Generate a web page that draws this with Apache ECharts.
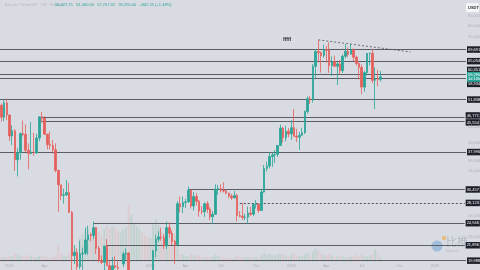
<!DOCTYPE html>
<html><head><meta charset="utf-8">
<script src="https://cdn.jsdelivr.net/npm/echarts@6/dist/echarts.min.js"></script>
<style>html,body{margin:0;padding:0;background:#d9dbe2}#c{width:480px;height:270px}</style>
</head><body><div id="c"></div><script>
// ---- data (weekly candles, BTC/USDT) ----
const firstWeek = '2021-12-13';
const weekSlots = 172;
const opens = [
50100,46700,50800,47300,41800,43100,36300,37900,42400,42200,
38400,37700,38000,37800,41300,46800,46400,42200,39700,39500,
38500,34100,31300,29400,29500,29900,26600,20600,21000,19300,
20800,20900,22600,23300,23200,24300,21500,20000,19800,21800,
19400,18800,19400,19200,19100,19600,20800,20900,16300,16300,
17100,17100,17200,16800,16700,16600,17100,21200,22700,23000,
22900,21800,24300,23500,22400,22000,28000,27500,28200,28300,
30300,27600,29200,28400,26800,26700,28000,27100,25900,26300,
30500,30600,30300,30200,29800,29300,29000,29400,26100,26000,
25800,25850,26500,26300,27900,27950,26900,30000,34500,35000,
37000,37400,37500,39500,43800,41400,43000,42300,43900,41700,
41500,42000,42600,48300,52100,51700,63100,68900,68400,67200,
69600,69400,63400,64900,63100,64000,61500,67000,69000,67800,
69600,66600,64200,62700,55800,60800,68100,68200,58100,58700,
58428];
const closes = [
46700,50800,47300,41800,43100,36300,37900,42400,42200,38400,
37700,38000,37800,41300,46800,46400,42200,39700,39500,38500,
34100,31300,29400,29500,29900,26600,20600,21000,19300,20800,
20900,22600,23300,23200,24300,21500,20000,19800,21800,19400,
18800,19400,19200,19100,19600,20800,20900,16300,16300,17100,
17100,17200,16800,16700,16600,17100,21200,22700,23000,22900,
21800,24300,23500,22400,22000,28000,27500,28200,28300,30300,
27600,29200,28400,26800,26700,28000,27100,25900,26300,30500,
30600,30300,30200,29800,29300,29000,29400,26100,26000,25800,
25850,26500,26300,27900,27950,26900,30000,34500,35000,37000,
37400,37500,39500,43800,41400,43000,42300,43900,41700,41500,
42000,42600,48300,52100,51700,63100,68900,68400,67200,69600,
69400,63400,64900,63100,64000,61500,67000,69000,67800,69600,
66600,64200,62700,55800,60800,68100,68200,58100,58700,58430,
59290];
const highs = [
50600,51900,52100,47500,44500,43500,38900,42600,45800,44700,
40000,45400,42600,42300,46900,48200,47000,42400,42900,40800,
40000,34200,31300,30600,32200,31700,26800,21900,21500,22500,
21600,24300,24600,23600,25200,24400,21800,20600,21800,22700,
19900,20400,20500,19900,19700,21100,21500,21000,17200,17300,
17400,17400,18400,17000,16900,17400,21300,23300,23800,24300,
23400,25200,25100,23900,22600,28400,29200,29200,28800,31000,
30500,30000,29800,28600,27600,28200,28400,27400,26800,31400,
31300,31400,31800,30400,29900,29700,30200,29700,26800,28100,
26400,27500,27500,28000,28600,28000,30400,35200,35900,37900,
37900,38400,39600,44700,44100,44400,43800,45900,49000,43600,
42800,43900,48600,52800,52900,64000,69900,73800,68900,71700,
71300,72800,66900,67200,64700,65500,67700,71900,70600,71900,
70200,67200,64500,63800,61400,68300,68500,70000,62700,61800,
61400];
const lows = [
45500,45600,45900,40600,39600,34000,32900,36300,41700,38000,
34300,37500,37200,37600,40500,45200,42100,38600,38600,37600,
33700,26700,28600,28000,29300,26500,17600,19600,18600,19000,
18900,20700,20700,22400,22700,20800,19800,19600,18600,19400,
18100,18500,19100,18200,18900,19200,20100,15600,15800,15500,
16000,16700,16600,16400,16300,16500,17100,20400,22300,22500,
21400,21400,22900,21900,19600,21900,26600,26500,27300,28200,
27200,26900,27700,25900,26300,25900,26500,25400,24800,26200,
29500,29900,29900,29600,28900,28600,28800,25200,25800,25400,
25400,24900,26000,26000,27200,26500,26800,29900,33900,34500,
34800,35600,36900,39500,40200,40500,41500,40800,41700,40300,
38500,41800,42300,47700,50500,50900,59000,64500,60800,66400,
64500,60700,59600,62800,56500,60200,60700,66100,66700,67600,
65100,63400,58400,53500,54300,59800,63400,57100,49000,56100,
57707];
const volumes = [
9,8,8,10,10,14,13,10,9,10,11,11,9,8,10,10,9,8,7,8,
12,28,14,11,10,15,30,18,16,
40,46,52,56,48,52,58,50,46,55,62,55,
60,58,52,50,55,58,96,80,65,60,
55,50,45,42,40,66,72,62,
50,46,58,44,36,48,40,
14,12,10,9,13,12,10,11,9,8,9,8,9,12,10,8,8,7,7,6,7,11,8,8,7,8,8,7,8,7,12,
16,12,14,12,11,13,14,13,11,9,12,15,11,10,9,13,15,11,18,22,20,14,12,11,14,11,9,10,11,9,
8,8,9,10,12,9,13,10,9,11,14,22,12,8];
// horizontal levels
const levelValues = [69691, 65054, 60351, 58934, 51838, 46771, 45554, 37996, 30457, 28123, 24946, 21896, 19988];
const levelStartWeek = [null, null, null, null, null, 15, 15, null, 69, 88, 34, 39, null];
const lastPrice = 59290;
const trendFrom = [117, 73800];
const trendTo = [151, 68720];
const scaleTicks = [85000, 80000, 75000, 44000, 40000, 36000, 34000, 26000, 23000];
const monthNames = ['Jan','Feb','Mar','Apr','May','Jun','Jul','Aug','Sep','Oct','Nov','Dec'];

// ---- build ----
const cats = [];
const d0 = new Date(firstWeek + 'T00:00:00Z');
for (let i = 0; i < weekSlots; i++) {
  const d = new Date(d0.getTime() + i * 7 * 86400000);
  cats.push(d.toISOString().slice(0, 10));
}
const UP = '#2ba597', DOWN = '#e5605c';
const candles = opens.map((o, i) => [o, closes[i], lows[i], highs[i]]);
const vols = volumes.map((v, i) => ({
  value: v,
  itemStyle: { color: closes[i] >= opens[i] ? 'rgba(186,208,202,0.8)' : 'rgba(220,200,202,0.8)' }
}));
const fmt = v => v.toLocaleString('en-US');
const darkLabel = (v, off) => ({
  show: true, position: 'end', distance: 1, formatter: fmt(v), offset: off || [0, 0],
  color: '#ffffff', backgroundColor: '#1c1f29', fontSize: 4, fontFamily: 'Liberation Sans',
  padding: [1, 1, 0.5, 1], lineHeight: 5
});
const labelOffsets = { 60351: [0, -4], 58934: [0, 6], 46771: [0, -1.5], 45554: [0, 1] };
const lineStyle = { color: '#5a5d66', width: 1, type: 'solid', opacity: 1 };
const mlData = [];
levelValues.forEach((v, i) => {
  const st = levelStartWeek[i];
  const ls = Object.assign({}, lineStyle);
  if (v === 28123) { ls.type = [2, 2]; ls.color = '#4a4d55'; }
  const lab = darkLabel(v, labelOffsets[v]);
  if (st === null) {
    mlData.push({ yAxis: v, lineStyle: ls, label: lab });
  } else {
    mlData.push([{ coord: [cats[st], v], lineStyle: ls, label: lab }, { coord: [cats[weekSlots - 1], v] }]);
  }
});
scaleTicks.forEach(v => {
  mlData.push({ yAxis: v, lineStyle: { color: 'rgba(0,0,0,0)', width: 0 },
    label: { show: true, position: 'end', distance: 2, formatter: fmt(v), color: '#aeb1ba', fontSize: 4, fontFamily: 'Liberation Sans' } });
});
mlData.push({ yAxis: lastPrice, lineStyle: { color: 'rgba(0,0,0,0)', width: 0 },
  label: { show: true, position: 'end', distance: 1, formatter: fmt(lastPrice) + '\n1d 10h', color: '#ffffff', backgroundColor: UP,
    fontSize: 4, lineHeight: 4.5, fontFamily: 'Liberation Sans', padding: [0.5, 1, 0.5, 1] } });
mlData.push([
  { coord: [cats[trendFrom[0]], trendFrom[1]], lineStyle: { color: '#4d5058', width: 0.8, type: [2, 2] }, label: { show: false } },
  { coord: [cats[trendTo[0]], trendTo[1]] }
]);

const chart = echarts.init(document.getElementById('c'), null, { renderer: 'canvas' });
chart.setOption({
  animation: false,
  backgroundColor: '#d9dbe2',
  grid: { left: 0, right: 14, top: 0, bottom: 8 },
  xAxis: {
    type: 'category', data: cats, boundaryGap: true,
    axisLine: { show: false }, axisTick: { show: false }, splitLine: { show: false },
    axisLabel: {
      margin: 2, fontSize: 4, color: '#a9acb5', fontFamily: 'Liberation Sans',
      interval: (i, v) => { const d = new Date(v + 'T00:00:00Z'); return d.getUTCMonth() % 3 === 0 && d.getUTCDate() <= 7; },
      formatter: v => { const d = new Date(v + 'T00:00:00Z'); return d.getUTCMonth() === 0 ? String(d.getUTCFullYear()) : monthNames[d.getUTCMonth()]; }
    }
  },
  yAxis: [
    { type: 'log', min: 19830, max: 93420, position: 'right',
      axisLine: { show: false }, axisTick: { show: false }, axisLabel: { show: false }, splitLine: { show: false } },
    { type: 'value', min: 0, max: 440, show: false }
  ],
  series: [
    { type: 'bar', data: vols, yAxisIndex: 1, barWidth: '70%', silent: true, z: 1 },
    { type: 'candlestick', data: candles, yAxisIndex: 0, barWidth: 2, clip: true, z: 3,
      itemStyle: { color: UP, color0: DOWN, borderColor: UP, borderColor0: DOWN, borderWidth: 0.8 },
      markLine: { symbol: ['none', 'none'], silent: true, animation: false, data: mlData, z: 2 }
    }
  ],
  graphic: [
    { type: 'text', left: 5, top: 3, style: { text: 'Bitcoin / TetherUS · 1W · Binance', fill: '#b4b7bf', font: '4px Liberation Sans' } },
    { type: 'text', left: 55, top: 3, style: { text: '58,427.75   61,400.00   57,707.32   59,290.00   +862.25 (+1.48%)', fill: '#2ba597', font: '4px Liberation Sans' } },
    { type: 'rect', left: 466, top: 3, shape: { width: 13, height: 9, r: 1.5 }, style: { fill: '#f4f5f8' } },
    { type: 'text', left: 468, top: 5.5, style: { text: 'USDT', fill: '#333', font: 'bold 4px Liberation Sans' } },
    { type: 'text', left: 283, top: 37, style: { text: 'ffffl', fill: '#2a2d36', font: 'bold 5px Liberation Sans' } },
    { type: 'circle', shape: { cx: 437, cy: 246, r: 5.5 }, style: { fill: 'rgba(90,150,210,0.45)' } },
    { type: 'circle', shape: { cx: 444, cy: 238, r: 2.2 }, style: { fill: 'rgba(240,170,60,0.6)' } },
    { type: 'text', left: 446, top: 236, style: { text: '比推', fill: 'rgba(150,155,170,0.55)', font: '11px Noto Sans CJK SC' } },
    { type: 'text', left: 446, top: 249, style: { text: 'bitpush', fill: 'rgba(150,155,170,0.5)', font: '4px Liberation Sans' } }
  ]
});
</script></body></html>
